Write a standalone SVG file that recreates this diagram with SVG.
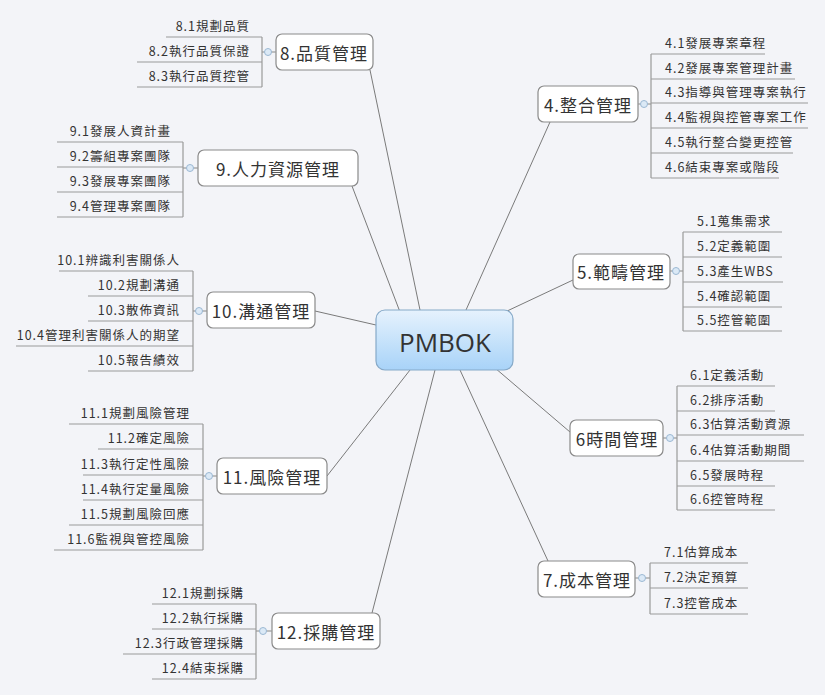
<svg xmlns="http://www.w3.org/2000/svg" width="825" height="695" viewBox="0 0 825 695">
<defs>
<linearGradient id="cg" x1="0" y1="0" x2="0" y2="1"><stop offset="0" stop-color="#e6f2fd"/><stop offset="1" stop-color="#a8d3f8"/></linearGradient>
<style>
.bg{fill:#f3f4f8}
.c{stroke:#7a7a7a;stroke-width:1;fill:none}
.n{fill:#fff;stroke:#8a8a8a;stroke-width:1.2}
.nt{font-family:"Noto Sans CJK TC","Liberation Sans",sans-serif;font-size:17px;fill:#333;text-anchor:middle;dominant-baseline:central;letter-spacing:1px}
.s{font-family:"Noto Sans CJK TC","Liberation Sans",sans-serif;font-size:12.5px;fill:#333;letter-spacing:1px}
.r{text-anchor:end}
.u{stroke:#9a9a9a;stroke-width:1.2;fill:none}
.k{fill:#dbe9f6;stroke:#9bb8d3;stroke-width:1}
</style>
</defs>
<rect class="bg" width="825" height="695"/>
<g id="connectors">
<line class="c" x1="466" y1="310" x2="550" y2="122"/>
<line class="c" x1="505" y1="312" x2="573" y2="280"/>
<line class="c" x1="495" y1="368" x2="570" y2="432"/>
<line class="c" x1="460" y1="370" x2="548" y2="561"/>
<line class="c" x1="420" y1="310" x2="370" y2="70"/>
<line class="c" x1="400" y1="312" x2="352" y2="186"/>
<line class="c" x1="376" y1="325" x2="315" y2="311"/>
<line class="c" x1="410" y1="370" x2="327" y2="476"/>
<line class="c" x1="435" y1="370" x2="372" y2="613"/>
</g>
<g id="center"><rect x="376" y="310" width="137" height="60" rx="9" fill="url(#cg)" stroke="#86a9c8" stroke-width="1.2"/><text x="445" y="342" font-family="'Open Sans','Liberation Sans',sans-serif" font-size="26" fill="#333" text-anchor="middle" dominant-baseline="central">PMBOK</text></g>

<g id="n4"><rect class="n" x="538" y="86" width="100" height="36" rx="6"/><text class="nt" x="588" y="104">4.整合管理</text>
<line class="u" x1="638" y1="104" x2="651" y2="104"/><circle class="k" cx="644" cy="104" r="3.5"/>
<path class="u" d="M651 54V178M651 54H765M651 79H795M651 103H808M651 128H808M651 153H793M651 178H779"/>
<g class="s"><text x="665" y="48">4.1發展專案章程</text><text x="665" y="73">4.2發展專案管理計畫</text><text x="665" y="97">4.3指導與管理專案執行</text><text x="665" y="122">4.4監視與控管專案工作</text><text x="665" y="147">4.5執行整合變更控管</text><text x="665" y="172">4.6結束專案或階段</text></g></g>

<g id="n5"><rect class="n" x="573" y="254" width="97" height="35" rx="6"/><text class="nt" x="621" y="271">5.範疇管理</text>
<line class="u" x1="670" y1="271" x2="683" y2="271"/><circle class="k" cx="676" cy="271" r="3.5"/>
<path class="u" d="M683 232V331M683 232H782M683 257H782M683 282H783M683 307H782M683 331H782"/>
<g class="s"><text x="697" y="226">5.1蒐集需求</text><text x="697" y="251">5.2定義範圍</text><text x="697" y="276">5.3產生WBS</text><text x="697" y="301">5.4確認範圍</text><text x="697" y="325">5.5控管範圍</text></g></g>

<g id="n6"><rect class="n" x="570" y="420" width="93" height="36" rx="6"/><text class="nt" x="617" y="438">6時間管理</text>
<line class="u" x1="663" y1="438" x2="677" y2="438"/><circle class="k" cx="670" cy="438" r="3.5"/>
<path class="u" d="M677 386V510M677 386H775M677 411H775M677 435H804M677 461H804M677 486H775M677 510H775"/>
<g class="s"><text x="690" y="380">6.1定義活動</text><text x="690" y="405">6.2排序活動</text><text x="690" y="429">6.3估算活動資源</text><text x="690" y="455">6.4估算活動期間</text><text x="690" y="480">6.5發展時程</text><text x="690" y="504">6.6控管時程</text></g></g>

<g id="n7"><rect class="n" x="538" y="561" width="97" height="36" rx="6"/><text class="nt" x="587" y="579">7.成本管理</text>
<line class="u" x1="635" y1="578" x2="650" y2="578"/><circle class="k" cx="642" cy="578" r="3.5"/>
<path class="u" d="M650 563V614M650 563H748M650 588H748M650 614H748"/>
<g class="s"><text x="664" y="557">7.1估算成本</text><text x="664" y="582">7.2決定預算</text><text x="664" y="608">7.3控管成本</text></g></g>

<g id="n8"><rect class="n" x="276" y="34" width="97" height="36" rx="6"/><text class="nt" x="324" y="52">8.品質管理</text>
<line class="u" x1="262" y1="52" x2="276" y2="52"/><circle class="k" cx="268" cy="52" r="3.5"/>
<path class="u" d="M262 37V87M262 37H166M262 62H137M262 87H137"/>
<g class="s r"><text x="250" y="31">8.1規劃品質</text><text x="250" y="56">8.2執行品質保證</text><text x="250" y="81">8.3執行品質控管</text></g></g>

<g id="n9"><rect class="n" x="198" y="150" width="160" height="36" rx="6"/><text class="nt" x="278" y="168">9.人力資源管理</text>
<line class="u" x1="183" y1="168" x2="198" y2="168"/><circle class="k" cx="190" cy="168" r="3.5"/>
<path class="u" d="M183 142V217M183 142H57M183 167H57M183 192H57M183 217H57"/>
<g class="s r"><text x="171" y="136">9.1發展人資計畫</text><text x="171" y="161">9.2籌組專案團隊</text><text x="171" y="186">9.3發展專案團隊</text><text x="171" y="211">9.4管理專案團隊</text></g></g>

<g id="n10"><rect class="n" x="207" y="292" width="108" height="36" rx="6"/><text class="nt" x="261" y="310">10.溝通管理</text>
<line class="u" x1="193" y1="311" x2="207" y2="311"/><circle class="k" cx="199" cy="311" r="3.5"/>
<path class="u" d="M193 271V371M193 271H59M193 296H88M193 321H88M193 346H16M193 371H88"/>
<g class="s r"><text x="180" y="265">10.1辨識利害關係人</text><text x="180" y="290">10.2規劃溝通</text><text x="180" y="315">10.3散佈資訊</text><text x="180" y="340">10.4管理利害關係人的期望</text><text x="180" y="365">10.5報告績效</text></g></g>

<g id="n11"><rect class="n" x="217" y="458" width="110" height="36" rx="6"/><text class="nt" x="272" y="476">11.風險管理</text>
<line class="u" x1="203" y1="476" x2="217" y2="476"/><circle class="k" cx="209" cy="476" r="3.5"/>
<path class="u" d="M203 424V550M203 424H69M203 449H98M203 475H83M203 500H83M203 525H69M203 550H54"/>
<g class="s r"><text x="190" y="418">11.1規劃風險管理</text><text x="190" y="443">11.2確定風險</text><text x="190" y="469">11.3執行定性風險</text><text x="190" y="494">11.4執行定量風險</text><text x="190" y="519">11.5規劃風險回應</text><text x="190" y="544">11.6監視與管控風險</text></g></g>

<g id="n12"><rect class="n" x="272" y="613" width="108" height="36" rx="6"/><text class="nt" x="326" y="631">12.採購管理</text>
<line class="u" x1="256" y1="631" x2="272" y2="631"/><circle class="k" cx="263" cy="631" r="3.5"/>
<path class="u" d="M256 604V679M256 604H152M256 629H152M256 654H123M256 679H152"/>
<g class="s r"><text x="244" y="598">12.1規劃採購</text><text x="244" y="623">12.2執行採購</text><text x="244" y="648">12.3行政管理採購</text><text x="244" y="673">12.4結束採購</text></g></g>
</svg>
